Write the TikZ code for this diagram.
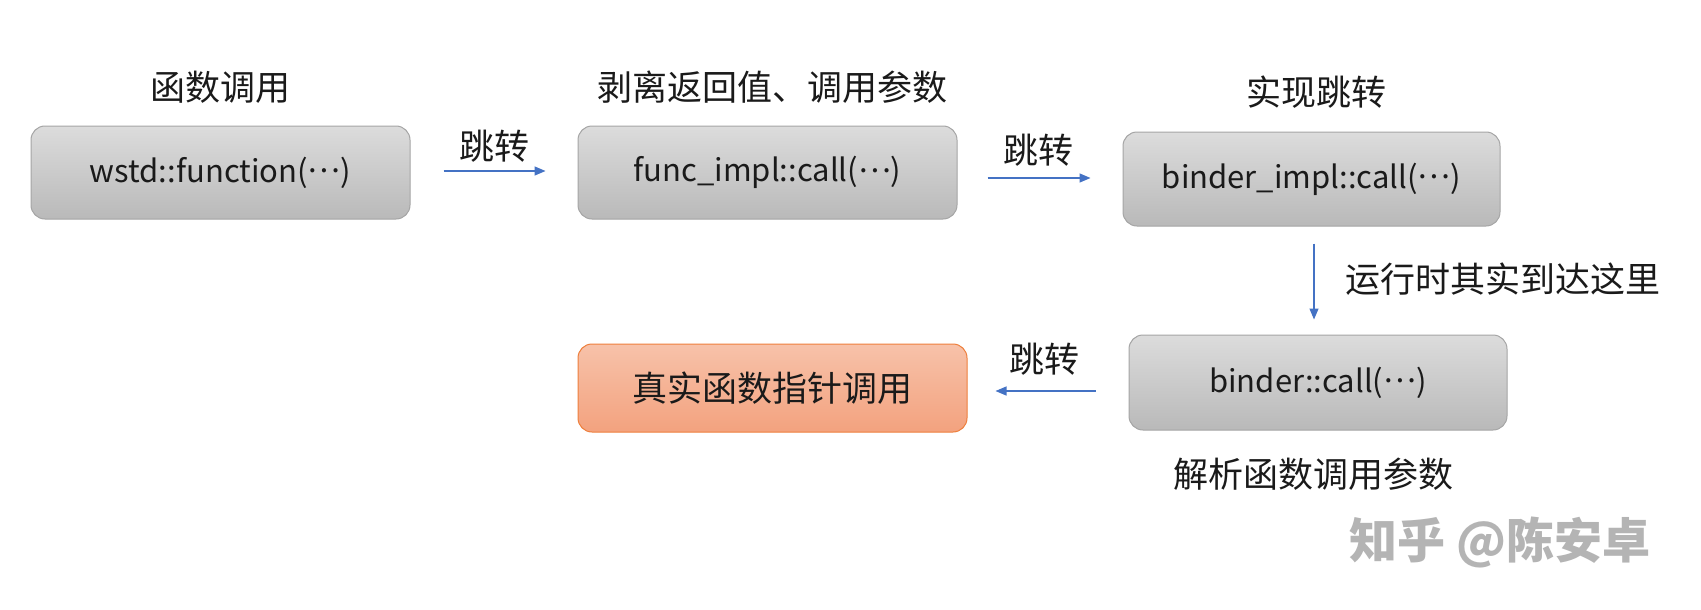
\documentclass[tikz,border=0pt]{standalone}
\usepackage{fontspec}
\setmainfont{Noto Sans CJK SC}
\usetikzlibrary{arrows.meta,calc}
\definecolor{arrblue}{HTML}{4472C4}
\definecolor{gtop}{HTML}{DCDCDC}
\definecolor{gbot}{HTML}{B9B9B9}
\definecolor{gline}{HTML}{A5A5A5}
\definecolor{otop}{HTML}{F7C2AA}
\definecolor{obot}{HTML}{F3A27E}
\definecolor{oline}{HTML}{EE7F3C}
\definecolor{txt}{HTML}{1A1A1A}
\definecolor{wm}{HTML}{B4B4B4}
\newcommand{\mdots}{\raisebox{0.3em}{…}}
\tikzset{
  x=1pt, y=-1pt,
  graybox/.style={draw=gline, line width=1pt, rounded corners=14pt, top color=gtop, bottom color=gbot, text=txt, font=\fontsize{31}{36}\selectfont, inner sep=0pt},
  orangebox/.style={draw=oline, line width=1pt, rounded corners=14pt, top color=otop, bottom color=obot, text=txt, font=\fontsize{35}{40}\selectfont, inner sep=0pt},
  lbl/.style={text=txt, font=\fontsize{35}{40}\selectfont, inner sep=0pt},
  arr/.style={draw=arrblue, line width=1.3pt, -{Triangle[length=11pt,width=9pt]}},
  wmark/.style={text=wm, font=\fontsize{48}{52}\selectfont\bfseries, inner sep=0pt}
}
\begin{document}
\begin{tikzpicture}
\useasboundingbox[fill=white] (0,0) rectangle (1701,610);
% boxes
\node[graybox, minimum width=379pt, minimum height=93pt] (f) at (220.5,172.5) {wstd::function(\mdots)};
\node[graybox, minimum width=379pt, minimum height=93pt] (g) at (767.5,172.5) {func\_impl::call(\mdots)};
\node[graybox, minimum width=377pt, minimum height=94pt] (h) at (1311.5,179) {binder\_impl::call(\mdots)};
\node[graybox, minimum width=378pt, minimum height=95pt] (b) at (1318,382.5) {binder::call(\mdots)};
\node[orangebox, minimum width=389pt, minimum height=88pt] (r) at (772.5,388) {真实函数指针调用};
% titles
\node[lbl] (t1) at (220,87) {函数调用};
\node[lbl] (t2) at (772,87) {剥离返回值、调用参数};
\node[lbl] (t3) at (1316,92) {实现跳转};
\node[lbl] (t4) at (1313,474) {解析函数调用参数};
% arrow labels
\node[lbl] (l1) at (494,146) {跳转};
\node[lbl] (l2) at (1038,150) {跳转};
\node[lbl] (l3) at (1044,359) {跳转};
\node[lbl, anchor=west] (l4) at (1345,279) {运行时其实到达这里};
% arrows
\draw[arr] ($(f.east)+(33,-1.5)$) -- ($(f.east -| g.west)+(-32,-1.5)$);
\draw[arr] ($(g.east)+(30,5.5)$) -- ($(g.east -| h.west)+(-32,5.5)$);
\draw[arr] ($(h.south)+(2.5,17)$) -- ($(h.south |- b.north)+(2.5,-15)$);
\draw[arr] ($(b.west)+(-33,8.5)$) -- ($(b.west -| r.east)+(28,8.5)$);
% watermark
\node[wmark] (w) at (1500,542) {知乎 @陈安卓};
\end{tikzpicture}
\end{document}
